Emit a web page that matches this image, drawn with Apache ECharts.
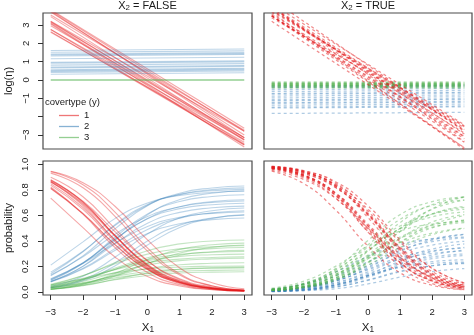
<!DOCTYPE html>
<html><head><meta charset="utf-8">
<script src="https://cdn.jsdelivr.net/npm/echarts@6/dist/echarts.min.js"></script>
<style>html,body{margin:0;padding:0;background:#fff}#chart{width:474px;height:335px}</style>
</head><body><div id="chart"></div>
<script>
// Multinomial model fit: log(eta) and class probabilities vs X1, split by X2.
// One row per posterior draw.

const X1_ENDS = [-3, 3];
const X1_STEPS = [-3, -2, -1, 0, 1, 2, 3];

const X_TICKS = [-3, -2, -1, 0, 1, 2, 3];
const LOG_TICKS = [-3, -2, -1, 0, 1, 2, 3];
const LOG_LABELS = [-3, -1, 0, 1, 2, 3];
const PROB_TICKS = [0, 0.2, 0.4, 0.6, 0.8, 1];

const PANEL_TITLES = ['FALSE', 'TRUE'];
const CLASSES = ['1', '2', '3'];

// log(eta) at X1 = -3 and X1 = 3, X2 = FALSE
const logEtaF1 = [[3.8,-2.8],[3.75,-3.15],[3.15,-3.15],[3.1,-3.5],[3.2,-2.8],[2.75,-3.55],[3.46,-3.26],[2.96,-3.16],
  [3.55,-2.75],[3.06,-3.66],[2.64,-3.54],[3.84,-2.64],[2.6,-3.4],[2.75,-3.25],[3.71,-3.01],[3.19,-3.29]];
const logEtaF2 = [[1.36,1.44],[0.41,0.49],[0.96,1.04],[0.71,0.79],[1.51,1.59],[0.31,0.39],[1.16,1.24],[0.56,0.64],
  [1.61,1.69],[0.81,0.89],[0.51,0.59],[0.46,0.54],[1.31,1.39],[0.91,0.99],[0.66,0.74],[1.41,1.49]];
const logEtaF3 = [[0,0]];

// log(eta) at X1 = -3 and X1 = 3, X2 = TRUE
const logEtaT1 = [[3.95,-2.95],[3.5,-3.1],[4.4,-2.8],[3.5,-3.7],[3.59,-2.89],[4.01,-2.71],[3.5,-3.4],[4.15,-2.45],
  [3.96,-3.36],[3.2,-3.7],[3.75,-2.55],[3.51,-3.21],[3.99,-3.09],[3.8,-2.5],[3.7,-3.8],[3.4,-2.6],[3.85,-2.75]];
const logEtaT2 = [[-0.43,-0.37],[-1.13,-1.07],[-0.78,-0.72],[-1.48,-1.42],[-0.63,-0.57],[-1.28,-1.22],[-0.98,-0.92],[-0.33,-0.27],
  [-1.53,-1.47],[-0.53,-0.47],[-1.08,-1.02],[-0.88,-0.82],[-1.23,-1.17],[-0.73,-0.67],[-1.38,-1.32],[-0.38,-0.32],[-1.83,-1.77]];
const logEtaT3 = [[-0.15,-0.15],[-0.3,-0.3],[-0.2,-0.2],[-0.4,-0.4],[-0.25,-0.25],[-0.1,-0.1],[-0.35,-0.35],[-0.2,-0.2],
  [-0.3,-0.3],[-0.25,-0.25],[-0.45,-0.45],[-0.15,-0.15],[-0.35,-0.35],[-0.3,-0.3],[-0.2,-0.2],[-0.25,-0.25],[-0.4,-0.4]];

// probabilities at X1_STEPS, X2 = FALSE
const probF1 = [
  [0.898,0.746,0.495,0.246,0.098,0.035,0.012],[0.943,0.840,0.624,0.345,0.143,0.050,0.016],
  [0.862,0.687,0.435,0.212,0.086,0.032,0.011],[0.877,0.703,0.441,0.208,0.081,0.028,0.010],
  [0.811,0.612,0.368,0.176,0.073,0.028,0.011],[0.866,0.694,0.442,0.217,0.089,0.033,0.012],
  [0.880,0.706,0.439,0.204,0.077,0.027,0.009],[0.872,0.711,0.471,0.243,0.104,0.040,0.015],
  [0.849,0.662,0.407,0.194,0.078,0.029,0.010],[0.864,0.676,0.405,0.182,0.068,0.023,0.008],
  [0.837,0.647,0.395,0.189,0.077,0.029,0.010],[0.946,0.856,0.670,0.408,0.189,0.073,0.026],
  [0.735,0.505,0.273,0.121,0.048,0.018,0.007],[0.813,0.616,0.371,0.178,0.074,0.028,0.011],
  [0.931,0.816,0.591,0.320,0.133,0.048,0.016],[0.822,0.610,0.347,0.153,0.058,0.020,0.007]];
const probF2 = [
  [0.081,0.203,0.405,0.605,0.724,0.774,0.793],[0.035,0.098,0.230,0.400,0.524,0.580,0.601],
  [0.100,0.229,0.413,0.576,0.668,0.708,0.723],[0.084,0.201,0.380,0.538,0.624,0.660,0.673],
  [0.156,0.320,0.522,0.680,0.765,0.802,0.816],[0.079,0.180,0.327,0.459,0.535,0.567,0.580],
  [0.092,0.226,0.431,0.612,0.709,0.748,0.762],[0.082,0.186,0.342,0.489,0.579,0.620,0.636],
  [0.127,0.283,0.497,0.676,0.774,0.815,0.830],[0.095,0.227,0.417,0.573,0.653,0.684,0.695],
  [0.104,0.224,0.384,0.514,0.585,0.616,0.627],[0.034,0.089,0.206,0.369,0.505,0.577,0.606],
  [0.211,0.393,0.577,0.698,0.756,0.780,0.789],[0.134,0.277,0.453,0.592,0.668,0.701,0.713],
  [0.046,0.123,0.274,0.454,0.579,0.636,0.658],[0.144,0.316,0.529,0.686,0.763,0.793,0.804]];
const probF3 = [
  [0.020,0.050,0.100,0.149,0.178,0.191,0.195],[0.022,0.062,0.146,0.255,0.334,0.370,0.383],
  [0.037,0.084,0.152,0.212,0.246,0.260,0.266],[0.039,0.095,0.179,0.254,0.295,0.312,0.318],
  [0.033,0.068,0.111,0.144,0.162,0.170,0.173],[0.055,0.127,0.231,0.324,0.377,0.400,0.408],
  [0.028,0.068,0.130,0.184,0.214,0.225,0.229],[0.045,0.102,0.188,0.268,0.318,0.340,0.349],
  [0.024,0.054,0.096,0.130,0.149,0.156,0.159],[0.041,0.097,0.178,0.245,0.279,0.292,0.297],
  [0.060,0.129,0.221,0.297,0.338,0.355,0.362],[0.020,0.054,0.125,0.224,0.306,0.350,0.368],
  [0.055,0.102,0.150,0.181,0.196,0.202,0.204],[0.052,0.107,0.175,0.229,0.258,0.271,0.276],
  [0.023,0.061,0.136,0.226,0.288,0.316,0.326],[0.034,0.074,0.124,0.161,0.179,0.186,0.189]];

// probabilities at X1_STEPS, X2 = TRUE
const probT1 = [
  [0.971,0.915,0.773,0.519,0.254,0.097,0.033],[0.969,0.911,0.774,0.532,0.275,0.112,0.040],
  [0.984,0.950,0.851,0.633,0.342,0.135,0.045],[0.973,0.917,0.768,0.500,0.232,0.083,0.027],
  [0.965,0.903,0.759,0.517,0.266,0.110,0.040],[0.979,0.938,0.831,0.616,0.344,0.146,0.053],
  [0.968,0.906,0.752,0.490,0.234,0.088,0.029],[0.976,0.931,0.818,0.600,0.333,0.142,0.052],
  [0.982,0.941,0.826,0.583,0.293,0.109,0.035],[0.946,0.849,0.640,0.360,0.151,0.053,0.018],
  [0.977,0.938,0.841,0.648,0.392,0.184,0.073],[0.963,0.894,0.734,0.474,0.227,0.088,0.030],
  [0.982,0.943,0.835,0.609,0.324,0.128,0.043],[0.973,0.927,0.816,0.607,0.351,0.160,0.062],
  [0.974,0.915,0.755,0.469,0.202,0.067,0.020],[0.953,0.881,0.732,0.501,0.270,0.120,0.047],
  [0.983,0.949,0.862,0.675,0.409,0.187,0.071]];
const probT2 = [
  [0.013,0.037,0.099,0.211,0.326,0.395,0.423],[0.010,0.028,0.070,0.145,0.225,0.275,0.298],
  [0.006,0.018,0.054,0.134,0.241,0.316,0.349],[0.007,0.022,0.060,0.130,0.199,0.238,0.253],
  [0.015,0.040,0.100,0.200,0.303,0.368,0.397],[0.005,0.015,0.041,0.092,0.158,0.206,0.228],
  [0.011,0.033,0.088,0.181,0.272,0.323,0.344],[0.011,0.033,0.086,0.190,0.317,0.407,0.450],
  [0.004,0.014,0.040,0.096,0.164,0.206,0.223],[0.023,0.066,0.158,0.280,0.372,0.415,0.430],
  [0.008,0.022,0.056,0.125,0.215,0.289,0.328],[0.012,0.035,0.088,0.174,0.256,0.302,0.322],
  [0.005,0.017,0.049,0.117,0.202,0.261,0.286],[0.011,0.029,0.074,0.158,0.260,0.337,0.377],
  [0.006,0.020,0.059,0.128,0.192,0.224,0.235],[0.022,0.056,0.127,0.237,0.347,0.418,0.452],
  [0.003,0.010,0.027,0.064,0.117,0.161,0.184]];
const probT3 = [
  [0.016,0.048,0.128,0.271,0.419,0.508,0.544],[0.022,0.061,0.156,0.323,0.500,0.613,0.662],
  [0.010,0.032,0.094,0.233,0.418,0.549,0.606],[0.020,0.062,0.171,0.370,0.569,0.679,0.720],
  [0.021,0.057,0.141,0.284,0.430,0.522,0.563],[0.016,0.047,0.128,0.291,0.498,0.648,0.719],
  [0.021,0.061,0.160,0.329,0.495,0.589,0.627],[0.013,0.036,0.095,0.210,0.350,0.450,0.498],
  [0.014,0.045,0.134,0.320,0.544,0.685,0.742],[0.030,0.085,0.203,0.360,0.477,0.532,0.552],
  [0.015,0.040,0.103,0.227,0.392,0.527,0.598],[0.025,0.071,0.178,0.351,0.517,0.610,0.648],
  [0.013,0.040,0.115,0.274,0.474,0.611,0.671],[0.016,0.044,0.110,0.235,0.388,0.503,0.561],
  [0.020,0.065,0.186,0.404,0.606,0.708,0.745],[0.025,0.062,0.141,0.262,0.383,0.462,0.500],
  [0.014,0.041,0.111,0.261,0.474,0.652,0.745]];

const COLORS = { '1': '#E41A1C', '2': '#377EB8', '3': '#4DAF4A' };
const FONT = '"Liberation Sans", Arial, Helvetica, sans-serif';
const TEXT = '#1a1a1a';
const minus = v => String(v).replace('-', '\u2212');

const chart = echarts.init(document.getElementById('chart'), null, { renderer: 'canvas' });

const grids = [
  { left: 43, top: 13, width: 209, height: 136 },
  { left: 264, top: 13, width: 208, height: 136 },
  { left: 43, top: 161, width: 209, height: 134 },
  { left: 264, top: 161, width: 208, height: 134 }
].map(g => Object.assign({ show: true, borderColor: '#4a4a4a', borderWidth: 1.2, backgroundColor: 'transparent' }, g));

const xAxes = grids.map((g, i) => {
  const bottom = i >= 2;
  return {
    type: 'value', gridIndex: i, min: -3.24, max: 3.24, position: 'bottom',
    splitLine: { show: false },
    axisLine: { show: false, onZero: false },
    axisTick: { show: bottom, length: 5, customValues: X_TICKS, lineStyle: { color: '#333' } },
    axisLabel: { show: bottom, customValues: X_TICKS, margin: 12, fontSize: 9.5, fontFamily: FONT, color: TEXT, formatter: minus }
  };
});

const yAxes = grids.map((g, i) => {
  const left = i % 2 === 0;
  const top = i < 2;
  return {
    type: 'value', gridIndex: i, position: 'left',
    min: top ? -3.77 : -0.023, max: top ? 3.656 : 1.026,
    splitLine: { show: false },
    axisLine: { show: false, onZero: false },
    axisTick: { show: left, length: 5, customValues: top ? LOG_TICKS : PROB_TICKS, lineStyle: { color: '#333' } },
    axisLabel: {
      show: left, customValues: top ? LOG_LABELS : PROB_TICKS, rotate: 90, margin: top ? 16.5 : 17.5,
      align: 'center', verticalAlign: 'middle',
      fontSize: 9.5, fontFamily: FONT, color: TEXT,
      formatter: top ? minus : (v => Number(v).toFixed(1))
    }
  };
});

const series = [];
function addLines(gridIdx, cls, rows, xs, dashed, opacity, smooth) {
  rows.forEach(row => {
    series.push({
      type: 'line', name: cls, xAxisIndex: gridIdx, yAxisIndex: gridIdx,
      data: row.map((v, k) => [xs[k], v]),
      symbol: 'none', silent: true, smooth: smooth ? 0.5 : false,
      lineStyle: { color: COLORS[cls], width: dashed ? 1.25 : 1.1, opacity: opacity, type: dashed ? [3, 3] : 'solid' },
      itemStyle: { color: COLORS[cls] }
    });
  });
}

// X2 = FALSE (solid)
addLines(0, '1', logEtaF1, X1_ENDS, false, 0.38, false);
addLines(0, '2', logEtaF2, X1_ENDS, false, 0.33, false);
addLines(0, '3', logEtaF3, X1_ENDS, false, 0.9, false);
addLines(2, '2', probF2, X1_STEPS, false, 0.33, true);
addLines(2, '3', probF3, X1_STEPS, false, 0.33, true);
addLines(2, '1', probF1, X1_STEPS, false, 0.38, true);
// X2 = TRUE (dashed)
addLines(1, '2', logEtaT2, X1_ENDS, true, 0.4, false);
addLines(1, '3', logEtaT3, X1_ENDS, true, 0.35, false);
addLines(1, '1', logEtaT1, X1_ENDS, true, 0.5, false);
addLines(3, '2', probT2, X1_STEPS, true, 0.4, true);
addLines(3, '3', probT3, X1_STEPS, true, 0.4, true);
addLines(3, '1', probT1, X1_STEPS, true, 0.5, true);

function subText(main, sub, rest, size) {
  return {
    text: main + '{s|' + sub + '}' + rest,
    rich: { s: { fontSize: size * 0.72, lineHeight: 6, verticalAlign: 'bottom', fontFamily: FONT, fill: TEXT } }
  };
}

function label(x, y, content, size, rot) {
  const st = typeof content === 'string' ? { text: content } : content;
  return {
    type: 'text', x: x, y: y, rotation: rot || 0, silent: true,
    style: Object.assign({
      font: size + 'px ' + FONT, fill: TEXT,
      align: 'center', verticalAlign: 'middle',
      textAlign: 'center', textVerticalAlign: 'middle'
    }, st)
  };
}

const graphics = [
  label(147.5, 6, subText('X', '2', ' = ' + PANEL_TITLES[0], 11), 11),
  label(368, 6, subText('X', '2', ' = ' + PANEL_TITLES[1], 11), 11),
  label(148, 328, subText('X', '1', '', 11.5), 11.5),
  label(368, 328, subText('X', '1', '', 11.5), 11.5),
  label(9, 81, 'log(\u03b7)', 11, Math.PI / 2),
  label(9, 228, 'probability', 11, Math.PI / 2),
  { type: 'text', x: 45, y: 102, silent: true,
    style: { text: 'covertype (y)', font: '9.5px ' + FONT, fill: TEXT, align: 'left', verticalAlign: 'middle', textAlign: 'left', textVerticalAlign: 'middle' } }
];

chart.setOption({
  animation: false,
  backgroundColor: '#fff',
  grid: grids,
  xAxis: xAxes,
  yAxis: yAxes,
  legend: {
    data: CLASSES, orient: 'vertical', left: 59, top: 110,
    icon: 'rect', itemWidth: 20, itemHeight: 1.3, itemGap: 0, padding: 0,
    selectedMode: false,
    itemStyle: { opacity: 0.6 },
    textStyle: { fontSize: 9.5, lineHeight: 11, height: 11, fontFamily: FONT, color: TEXT }
  },
  graphic: graphics,
  series: series
});
</script></body></html>
